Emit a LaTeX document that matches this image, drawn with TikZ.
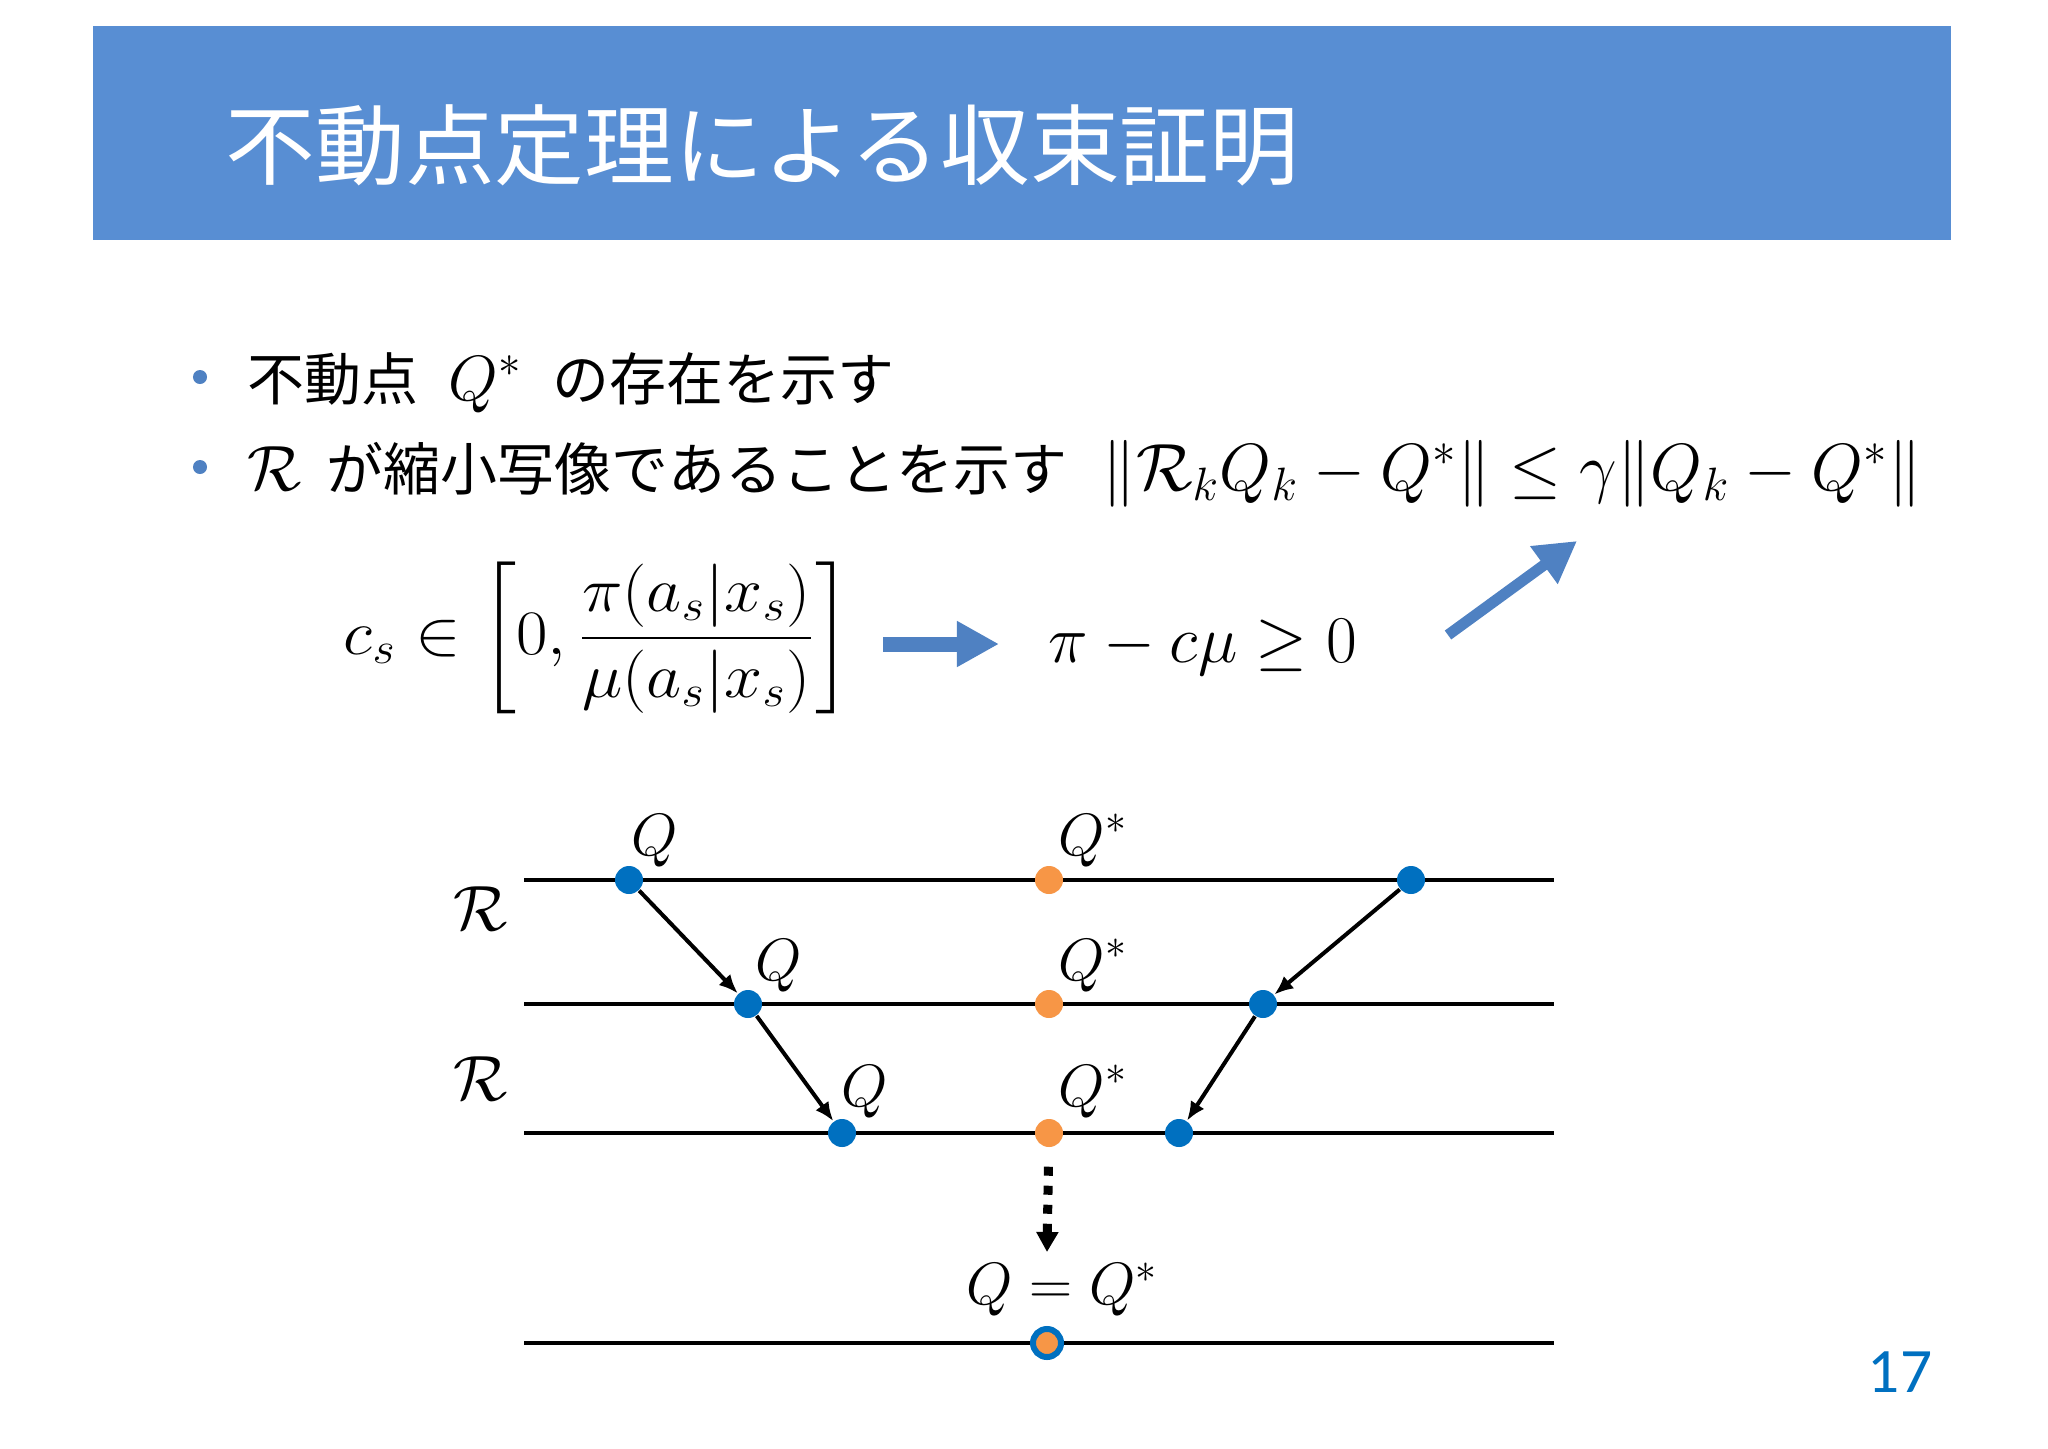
\RequirePackage{fix-cm}
\documentclass[tikz,border=0pt]{standalone}
\usepackage{amsmath}
\usepackage{amssymb}
\usepackage{fontspec}
\newfontfamily\jpfont{Noto Sans CJK JP}
\newfontfamily\titlefont[FakeStretch=1.02]{Noto Sans CJK JP}
\newfontfamily\numfont{Carlito}
\usetikzlibrary{arrows.meta}
\definecolor{headblue}{HTML}{588ED3}
\definecolor{arrowblue}{HTML}{4F81C2}
\definecolor{dotblue}{HTML}{0070C0}
\definecolor{dotorange}{HTML}{F79646}
\tikzset{
	txt/.style={inner sep=0pt, anchor=base west},
	bodyfont/.style={font=\fontsize{16.2}{20}\selectfont},
	bigmath/.style={font=\fontsize{18.2}{22}\selectfont},
	eqfont/.style={font=\fontsize{17}{20}\selectfont},
	qdot/.style={circle, fill=dotblue, minimum size=0.28cm, inner sep=0pt},
	sdot/.style={circle, fill=dotorange, minimum size=0.28cm, inner sep=0pt},
	fixdot/.style={circle, fill=dotorange, draw=dotblue, line width=0.06cm, minimum size=0.28cm, inner sep=0pt},
	bul/.style={circle, fill=arrowblue, minimum size=0.14cm, inner sep=0pt},
	rowline/.style={line width=0.045cm},
	iter/.style={-{Latex[length=0.19cm,width=0.16cm]}, line width=0.04cm},
	limit/.style={-{Triangle[length=0.2cm,width=0.21cm]}, line width=0.09cm, dash pattern=on 0.09cm off 0.1cm},
}
\begin{document}
\begin{tikzpicture}[x=0.01cm, y=-0.01cm]
	\path[fill=white, use as bounding box] (0,0) rectangle (2048,1448);
	% title bar
	\fill[headblue] (93,26) rectangle (1951,240);
	\node[txt, text=white, font=\titlefont\fontsize{25}{30}\selectfont] (title) at (225,178) {不動点定理による収束証明};
	% bullets
	\node[bul] (b1) at (200,377) {};
	\node[txt, bodyfont] (t1) at (247,400) {\jpfont 不動点\hspace{0.3cm}{\fontsize{18.2}{22}\selectfont$Q^*$}\hspace{0.3cm}の存在を示す};
	\node[bul] (b2) at (200,467) {};
	\node[txt, bodyfont] (t2) at (247,490) {\jpfont {\fontsize{18.2}{22}\selectfont$\mathcal{R}$}\hspace{0.25cm}が縮小写像であることを示す};
	\node[txt, font=\fontsize{19}{22}\selectfont] (ineq) at (1102,490) {$\|\mathcal{R}_kQ_k - Q^*\| \le \gamma\|Q_k - Q^*\|$};
	% condition
	\node[txt, font=\fontsize{18}{22}\selectfont] (cond) at (343,654) {\scalebox{1.08}[1]{$\displaystyle c_s \in \left[0, \frac{\pi\mathopen{}\left(a_s\middle|x_s\right)}{\mu\mathopen{}\left(a_s\middle|x_s\right)}\right]$}};
	\node[txt, font=\fontsize{19}{22}\selectfont] (pos) at (1048,662) {$\pi - c\mu \geq 0$};
	\coordinate (r0) at (883,644);
	\coordinate (r1) at (999,644);
	\draw[arrowblue, line width=0.15cm, -{Triangle[length=0.42cm,width=0.43cm]}] (r0) -- (r1);
	\coordinate (u0) at (1448,635);
	\coordinate (u1) at (1577,541);
	\draw[arrowblue, line width=0.11cm, -{Triangle[length=0.41cm,width=0.44cm]}] (u0) -- (u1);
	% iterations
	\foreach \y in {880,1004,1133,1343}
		\draw[rowline] (524,\y) -- (1554,\y);
	\node[qdot] (a1) at (629,880) {};
	\node[sdot] (s1) at (1049,880) {};
	\node[qdot] (c1) at (1411,880) {};
	\node[qdot] (a2) at (748,1004) {};
	\node[sdot] (s2) at (1049,1004) {};
	\node[qdot] (c2) at (1263,1004) {};
	\node[qdot] (a3) at (842,1133) {};
	\node[sdot] (s3) at (1049,1133) {};
	\node[qdot] (c3) at (1179,1133) {};
	\node[fixdot] (s4) at (1047,1343) {};
	\draw[iter] (a1) -- (a2);
	\draw[iter] (a2) -- (a3);
	\draw[iter] (c1) -- (c2);
	\draw[iter] (c2) -- (c3);
	\coordinate (lim) at (1047,1252);
	\draw[limit, shorten <=0.19cm] (s3) -- (lim);
	% labels
	\node[txt, eqfont] (q1) at (631,855) {$Q$};
	\node[txt, eqfont] (qs1) at (1058,855) {$Q^*$};
	\node[txt, eqfont] (q2) at (755,980) {$Q$};
	\node[txt, eqfont] (qs2) at (1058,980) {$Q^*$};
	\node[txt, eqfont] (q3) at (841,1106) {$Q$};
	\node[txt, eqfont] (qs3) at (1058,1106) {$Q^*$};
	\node[bigmath, inner sep=0pt, anchor=base] (rl1) at (481,930) {$\mathcal{R}$};
	\node[bigmath, inner sep=0pt, anchor=base] (rl2) at (481,1100) {$\mathcal{R}$};
	\node[txt, eqfont] (eq) at (966,1304) {$Q = Q^*$};
	% page number
	\node[font=\numfont\fontsize{18}{20}\selectfont, text=dotblue] (pg) at (1900,1372) {17};
\end{tikzpicture}
\end{document}
